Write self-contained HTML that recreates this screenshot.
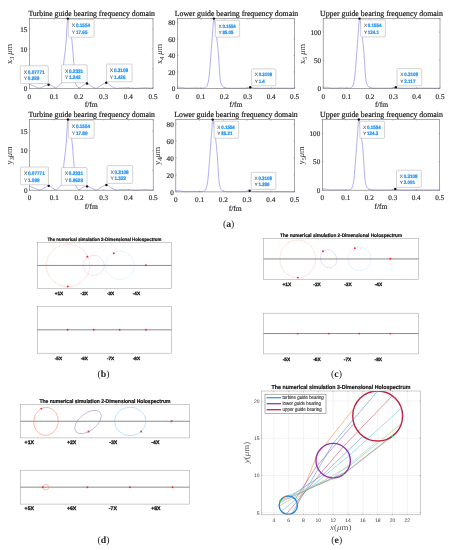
<!DOCTYPE html>
<html lang="en"><head><meta charset="utf-8"><title>Figure</title><style>html,body{margin:0;padding:0;background:#fff}svg{display:block}</style></head><body>
<svg width="451" height="550" viewBox="0 0 451 550" text-rendering="geometricPrecision">
<rect width="451" height="550" fill="#fff"/>
<defs><filter id="soft" x="0" y="0" width="100%" height="100%" filterUnits="userSpaceOnUse" color-interpolation-filters="sRGB"><feGaussianBlur stdDeviation="0.38"/></filter></defs>
<g filter="url(#soft)">
<rect width="451" height="550" fill="#fff"/>
<path d="M29.40 84.40 L30.14 84.66 L30.88 84.92 L31.62 85.18 L32.37 85.44 L33.11 85.71 L33.85 85.98 L34.76 86.38 L35.66 86.84 L36.57 87.32 L37.48 87.74 L38.38 88.04 L39.29 88.15 L40.11 88.05 L40.94 87.77 L41.76 87.39 L42.58 86.96 L43.41 86.53 L44.23 86.18 L44.96 85.88 L45.69 85.55 L46.42 85.23 L47.15 84.95 L47.88 84.75 L48.61 84.68 L49.32 84.76 L50.03 84.98 L50.75 85.30 L51.46 85.66 L52.17 86.04 L52.88 86.37 L53.42 86.65 L53.96 86.97 L54.49 87.30 L55.03 87.59 L55.56 87.80 L56.10 87.88 L56.55 87.76 L57.00 87.44 L57.46 86.99 L57.91 86.47 L58.36 85.94 L58.82 85.47 L59.31 85.06 L59.80 84.72 L60.29 84.36 L60.78 83.93 L61.27 83.35 L61.76 82.54 L62.08 81.13 L62.39 78.41 L62.71 74.85 L63.03 70.88 L63.34 66.98 L63.66 63.59 L64.06 60.00 L64.46 56.66 L64.86 53.38 L65.26 50.01 L65.66 46.37 L66.06 42.31 L66.35 38.36 L66.64 33.35 L66.94 28.08 L67.23 23.34 L67.52 19.92 L67.81 18.60 L68.44 19.37 L69.06 21.50 L69.68 24.67 L70.30 28.58 L70.93 32.94 L71.55 37.43 L71.93 40.69 L72.32 44.74 L72.71 49.32 L73.10 54.16 L73.48 59.01 L73.87 63.59 L74.17 67.36 L74.47 71.60 L74.77 75.84 L75.07 79.62 L75.38 82.48 L75.68 83.96 L76.28 85.13 L76.88 86.08 L77.48 86.82 L78.08 87.34 L78.68 87.65 L79.28 87.76 L79.95 87.62 L80.62 87.25 L81.29 86.74 L81.95 86.17 L82.62 85.63 L83.29 85.19 L83.91 84.83 L84.53 84.44 L85.16 84.06 L85.78 83.75 L86.40 83.52 L87.02 83.44 L87.72 83.59 L88.41 83.99 L89.11 84.54 L89.81 85.15 L90.50 85.73 L91.20 86.18 L92.02 86.62 L92.85 87.08 L93.67 87.52 L94.50 87.89 L95.32 88.14 L96.14 88.23 L97.05 88.06 L97.96 87.61 L98.86 86.98 L99.77 86.26 L100.68 85.57 L101.58 84.99 L102.36 84.53 L103.13 84.03 L103.91 83.54 L104.68 83.12 L105.46 82.83 L106.23 82.71 L107.02 82.90 L107.81 83.38 L108.60 84.04 L109.39 84.77 L110.18 85.45 L110.98 85.98 L111.88 86.47 L112.79 86.98 L113.70 87.46 L114.60 87.86 L115.51 88.13 L116.41 88.23 L117.24 88.22 L118.06 88.18 L118.89 88.13 L119.71 88.07 L120.53 88.01 L121.36 87.95 L122.10 87.91 L122.84 87.86 L123.58 87.81 L124.32 87.76 L125.07 87.73 L125.81 87.72 L126.63 87.73 L127.46 87.78 L128.28 87.84 L129.10 87.91 L129.93 87.98 L130.75 88.03 L131.58 88.08 L132.40 88.14 L133.22 88.19 L134.05 88.23 L134.87 88.26 L135.70 88.27 L136.52 88.26 L137.34 88.23 L138.17 88.18 L138.99 88.13 L139.82 88.08 L140.64 88.03 L141.46 87.98 L142.29 87.92 L143.11 87.86 L143.94 87.81 L144.76 87.77 L145.58 87.76 L146.28 87.77 L146.98 87.82 L147.69 87.88 L148.39 87.95 L149.09 88.02 L149.79 88.07 L150.32 88.10 L150.86 88.13 L151.39 88.16 L151.93 88.18 L152.46 88.21 L153.00 88.23" fill="none" stroke="#8a8af2" stroke-width="0.68" stroke-linejoin="round"/>
<rect x="29.40" y="18.60" width="123.60" height="69.75" fill="none" stroke="#6e6e6e" stroke-width="0.6"/>
<path d="M29.40 88.35 v-1.2 M29.40 18.6 v1.2" stroke="#6e6e6e" stroke-width="0.4"/>
<text x="29.40" y="98.55" font-family="Liberation Serif, serif" font-size="7.2" font-weight="normal" text-anchor="middle" fill="#2a2a2a" stroke="#2a2a2a" stroke-width="0.16">0</text>
<path d="M54.12 88.35 v-1.2 M54.12 18.6 v1.2" stroke="#6e6e6e" stroke-width="0.4"/>
<text x="54.12" y="98.55" font-family="Liberation Serif, serif" font-size="7.2" font-weight="normal" text-anchor="middle" fill="#2a2a2a" stroke="#2a2a2a" stroke-width="0.16">0.1</text>
<path d="M78.84 88.35 v-1.2 M78.84 18.6 v1.2" stroke="#6e6e6e" stroke-width="0.4"/>
<text x="78.84" y="98.55" font-family="Liberation Serif, serif" font-size="7.2" font-weight="normal" text-anchor="middle" fill="#2a2a2a" stroke="#2a2a2a" stroke-width="0.16">0.2</text>
<path d="M103.56 88.35 v-1.2 M103.56 18.6 v1.2" stroke="#6e6e6e" stroke-width="0.4"/>
<text x="103.56" y="98.55" font-family="Liberation Serif, serif" font-size="7.2" font-weight="normal" text-anchor="middle" fill="#2a2a2a" stroke="#2a2a2a" stroke-width="0.16">0.3</text>
<path d="M128.28 88.35 v-1.2 M128.28 18.6 v1.2" stroke="#6e6e6e" stroke-width="0.4"/>
<text x="128.28" y="98.55" font-family="Liberation Serif, serif" font-size="7.2" font-weight="normal" text-anchor="middle" fill="#2a2a2a" stroke="#2a2a2a" stroke-width="0.16">0.4</text>
<path d="M153.00 88.35 v-1.2 M153.00 18.6 v1.2" stroke="#6e6e6e" stroke-width="0.4"/>
<text x="153.00" y="98.55" font-family="Liberation Serif, serif" font-size="7.2" font-weight="normal" text-anchor="middle" fill="#2a2a2a" stroke="#2a2a2a" stroke-width="0.16">0.5</text>
<path d="M29.4 88.35 h1.2 M153.0 88.35 h-1.2" stroke="#6e6e6e" stroke-width="0.4"/>
<text x="27.40" y="91.05" font-family="Liberation Serif, serif" font-size="7.2" font-weight="normal" text-anchor="end" fill="#2a2a2a" stroke="#2a2a2a" stroke-width="0.16">0</text>
<path d="M29.4 68.59 h1.2 M153.0 68.59 h-1.2" stroke="#6e6e6e" stroke-width="0.4"/>
<text x="27.40" y="71.29" font-family="Liberation Serif, serif" font-size="7.2" font-weight="normal" text-anchor="end" fill="#2a2a2a" stroke="#2a2a2a" stroke-width="0.16">5</text>
<path d="M29.4 48.83 h1.2 M153.0 48.83 h-1.2" stroke="#6e6e6e" stroke-width="0.4"/>
<text x="27.40" y="51.53" font-family="Liberation Serif, serif" font-size="7.2" font-weight="normal" text-anchor="end" fill="#2a2a2a" stroke="#2a2a2a" stroke-width="0.16">10</text>
<path d="M29.4 29.07 h1.2 M153.0 29.07 h-1.2" stroke="#6e6e6e" stroke-width="0.4"/>
<text x="27.40" y="31.77" font-family="Liberation Serif, serif" font-size="7.2" font-weight="normal" text-anchor="end" fill="#2a2a2a" stroke="#2a2a2a" stroke-width="0.16">15</text>
<text x="91.20" y="106.95" font-family="Liberation Serif, serif" font-size="7.6" font-weight="normal" text-anchor="middle" fill="#2a2a2a" stroke="#2a2a2a" stroke-width="0.16">f/fm</text>
<text x="91.70" y="16.40" font-family="Liberation Serif, serif" font-size="7.8" font-weight="normal" text-anchor="middle" fill="#111" textLength="126.60" lengthAdjust="spacingAndGlyphs" stroke="#111" stroke-width="0.16">Turbine guide bearing frequency domain</text>
<text transform="translate(11.50 54.00) rotate(-90)" font-family="Liberation Serif, serif" font-size="8.4" text-anchor="middle" fill="#2a2a2a">x<tspan font-size="6.2" dy="2">3</tspan><tspan dy="-2"> <tspan font-style="italic">μ</tspan>m</tspan></text>
<rect x="68.40" y="19.50" width="25.70" height="17.80" rx="0.9" fill="#fdfdfd" fill-opacity="0.94" stroke="#b4b4b4" stroke-width="0.55"/>
<circle cx="67.81" cy="18.60" r="1.2" fill="#111"/>
<text x="71.80" y="27.47" font-family="Liberation Sans, sans-serif" font-size="5.0" font-weight="normal" text-anchor="start" fill="#5e5e5e" stroke="#5e5e5e" stroke-width="0.12">X</text>
<text x="75.90" y="27.47" font-family="Liberation Sans, sans-serif" font-size="5.1" font-weight="bold" text-anchor="start" fill="#1e92f4" textLength="14.19" lengthAdjust="spacingAndGlyphs" stroke="#1e92f4" stroke-width="0.22">0.1554</text>
<text x="71.80" y="34.13" font-family="Liberation Sans, sans-serif" font-size="5.0" font-weight="normal" text-anchor="start" fill="#5e5e5e" stroke="#5e5e5e" stroke-width="0.12">Y</text>
<text x="75.90" y="34.13" font-family="Liberation Sans, sans-serif" font-size="5.1" font-weight="bold" text-anchor="start" fill="#1e92f4" textLength="11.61" lengthAdjust="spacingAndGlyphs" stroke="#1e92f4" stroke-width="0.22">17.65</text>
<rect x="20.30" y="65.80" width="28.00" height="17.80" rx="0.9" fill="#fdfdfd" fill-opacity="0.94" stroke="#b4b4b4" stroke-width="0.55"/>
<circle cx="48.61" cy="84.68" r="1.2" fill="#111"/>
<text x="23.70" y="73.77" font-family="Liberation Sans, sans-serif" font-size="5.0" font-weight="normal" text-anchor="start" fill="#5e5e5e" stroke="#5e5e5e" stroke-width="0.12">X</text>
<text x="27.80" y="73.77" font-family="Liberation Sans, sans-serif" font-size="5.1" font-weight="bold" text-anchor="start" fill="#1e92f4" textLength="16.77" lengthAdjust="spacingAndGlyphs" stroke="#1e92f4" stroke-width="0.22">0.07771</text>
<text x="23.70" y="80.43" font-family="Liberation Sans, sans-serif" font-size="5.0" font-weight="normal" text-anchor="start" fill="#5e5e5e" stroke="#5e5e5e" stroke-width="0.12">Y</text>
<text x="27.80" y="80.43" font-family="Liberation Sans, sans-serif" font-size="5.1" font-weight="bold" text-anchor="start" fill="#1e92f4" textLength="11.61" lengthAdjust="spacingAndGlyphs" stroke="#1e92f4" stroke-width="0.22">0.929</text>
<rect x="61.50" y="64.80" width="25.70" height="17.80" rx="0.9" fill="#fdfdfd" fill-opacity="0.94" stroke="#b4b4b4" stroke-width="0.55"/>
<circle cx="87.02" cy="83.44" r="1.2" fill="#111"/>
<text x="64.90" y="72.77" font-family="Liberation Sans, sans-serif" font-size="5.0" font-weight="normal" text-anchor="start" fill="#5e5e5e" stroke="#5e5e5e" stroke-width="0.12">X</text>
<text x="69.00" y="72.77" font-family="Liberation Sans, sans-serif" font-size="5.1" font-weight="bold" text-anchor="start" fill="#1e92f4" textLength="14.19" lengthAdjust="spacingAndGlyphs" stroke="#1e92f4" stroke-width="0.22">0.2331</text>
<text x="64.90" y="79.43" font-family="Liberation Sans, sans-serif" font-size="5.0" font-weight="normal" text-anchor="start" fill="#5e5e5e" stroke="#5e5e5e" stroke-width="0.12">Y</text>
<text x="69.00" y="79.43" font-family="Liberation Sans, sans-serif" font-size="5.1" font-weight="bold" text-anchor="start" fill="#1e92f4" textLength="11.61" lengthAdjust="spacingAndGlyphs" stroke="#1e92f4" stroke-width="0.22">1.242</text>
<rect x="106.40" y="64.00" width="25.70" height="17.80" rx="0.9" fill="#fdfdfd" fill-opacity="0.94" stroke="#b4b4b4" stroke-width="0.55"/>
<circle cx="106.23" cy="82.71" r="1.2" fill="#111"/>
<text x="109.80" y="71.97" font-family="Liberation Sans, sans-serif" font-size="5.0" font-weight="normal" text-anchor="start" fill="#5e5e5e" stroke="#5e5e5e" stroke-width="0.12">X</text>
<text x="113.90" y="71.97" font-family="Liberation Sans, sans-serif" font-size="5.1" font-weight="bold" text-anchor="start" fill="#1e92f4" textLength="14.19" lengthAdjust="spacingAndGlyphs" stroke="#1e92f4" stroke-width="0.22">0.3108</text>
<text x="109.80" y="78.63" font-family="Liberation Sans, sans-serif" font-size="5.0" font-weight="normal" text-anchor="start" fill="#5e5e5e" stroke="#5e5e5e" stroke-width="0.12">Y</text>
<text x="113.90" y="78.63" font-family="Liberation Sans, sans-serif" font-size="5.1" font-weight="bold" text-anchor="start" fill="#1e92f4" textLength="11.61" lengthAdjust="spacingAndGlyphs" stroke="#1e92f4" stroke-width="0.22">1.426</text>
<path d="M177.40 86.95 L178.18 87.05 L178.96 87.14 L179.74 87.23 L180.53 87.32 L181.31 87.42 L182.09 87.51 L182.87 87.63 L183.65 87.76 L184.43 87.90 L185.21 88.02 L185.99 88.11 L186.78 88.14 L187.56 88.14 L188.34 88.13 L189.12 88.12 L189.90 88.11 L190.68 88.09 L191.46 88.07 L192.16 88.04 L192.85 87.98 L193.54 87.92 L194.23 87.86 L194.92 87.81 L195.61 87.79 L196.29 87.81 L196.96 87.86 L197.64 87.93 L198.32 88.00 L198.99 88.05 L199.67 88.07 L200.25 88.07 L200.84 88.07 L201.43 88.07 L202.01 88.07 L202.60 88.07 L203.18 88.07 L203.42 88.06 L203.65 88.03 L203.89 87.98 L204.12 87.92 L204.36 87.86 L204.59 87.79 L204.90 87.70 L205.22 87.59 L205.53 87.47 L205.84 87.31 L206.15 87.12 L206.47 86.89 L206.78 86.50 L207.09 85.88 L207.40 85.05 L207.72 84.03 L208.03 82.87 L208.34 81.58 L208.84 78.59 L209.33 74.12 L209.83 68.59 L210.33 62.40 L210.82 55.97 L211.32 49.71 L211.54 46.80 L211.77 43.66 L212.00 40.42 L212.22 37.18 L212.45 34.05 L212.68 31.15 L212.87 28.62 L213.06 25.84 L213.25 23.14 L213.44 20.83 L213.63 19.21 L213.83 18.60 L214.20 19.25 L214.58 21.00 L214.95 23.52 L215.33 26.50 L215.70 29.61 L216.08 32.55 L216.40 35.00 L216.72 37.62 L217.05 40.39 L217.37 43.34 L217.70 46.44 L218.02 49.71 L218.44 54.85 L218.86 61.10 L219.28 67.68 L219.69 73.81 L220.11 78.71 L220.53 81.58 L220.88 82.84 L221.23 83.92 L221.58 84.82 L221.94 85.55 L222.29 86.09 L222.64 86.47 L222.99 86.73 L223.34 86.95 L223.69 87.13 L224.05 87.28 L224.40 87.41 L224.75 87.51 L225.30 87.67 L225.84 87.81 L226.39 87.94 L226.94 88.04 L227.48 88.11 L228.03 88.14 L229.36 88.16 L230.69 88.18 L232.02 88.19 L233.34 88.20 L234.67 88.21 L236.00 88.21 L237.56 88.21 L239.13 88.20 L240.69 88.18 L242.25 88.15 L243.81 88.11 L245.38 88.07 L246.19 87.99 L247.00 87.82 L247.81 87.62 L248.63 87.42 L249.44 87.26 L250.25 87.20 L251.00 87.26 L251.75 87.42 L252.50 87.62 L253.25 87.83 L254.00 87.99 L254.75 88.07 L256.31 88.11 L257.88 88.15 L259.44 88.18 L261.00 88.20 L262.57 88.21 L264.13 88.21 L266.08 88.21 L268.03 88.19 L269.99 88.18 L271.94 88.16 L273.89 88.15 L275.85 88.14 L278.97 88.14 L282.10 88.15 L285.22 88.17 L288.35 88.18 L291.47 88.20 L294.60 88.21" fill="none" stroke="#8a8af2" stroke-width="0.68" stroke-linejoin="round"/>
<rect x="177.40" y="18.60" width="117.20" height="69.75" fill="none" stroke="#6e6e6e" stroke-width="0.6"/>
<path d="M177.40 88.35 v-1.2 M177.40 18.6 v1.2" stroke="#6e6e6e" stroke-width="0.4"/>
<text x="177.40" y="98.55" font-family="Liberation Serif, serif" font-size="7.2" font-weight="normal" text-anchor="middle" fill="#2a2a2a" stroke="#2a2a2a" stroke-width="0.16">0</text>
<path d="M200.84 88.35 v-1.2 M200.84 18.6 v1.2" stroke="#6e6e6e" stroke-width="0.4"/>
<text x="200.84" y="98.55" font-family="Liberation Serif, serif" font-size="7.2" font-weight="normal" text-anchor="middle" fill="#2a2a2a" stroke="#2a2a2a" stroke-width="0.16">0.1</text>
<path d="M224.28 88.35 v-1.2 M224.28 18.6 v1.2" stroke="#6e6e6e" stroke-width="0.4"/>
<text x="224.28" y="98.55" font-family="Liberation Serif, serif" font-size="7.2" font-weight="normal" text-anchor="middle" fill="#2a2a2a" stroke="#2a2a2a" stroke-width="0.16">0.2</text>
<path d="M247.72 88.35 v-1.2 M247.72 18.6 v1.2" stroke="#6e6e6e" stroke-width="0.4"/>
<text x="247.72" y="98.55" font-family="Liberation Serif, serif" font-size="7.2" font-weight="normal" text-anchor="middle" fill="#2a2a2a" stroke="#2a2a2a" stroke-width="0.16">0.3</text>
<path d="M271.16 88.35 v-1.2 M271.16 18.6 v1.2" stroke="#6e6e6e" stroke-width="0.4"/>
<text x="271.16" y="98.55" font-family="Liberation Serif, serif" font-size="7.2" font-weight="normal" text-anchor="middle" fill="#2a2a2a" stroke="#2a2a2a" stroke-width="0.16">0.4</text>
<path d="M294.60 88.35 v-1.2 M294.60 18.6 v1.2" stroke="#6e6e6e" stroke-width="0.4"/>
<text x="294.60" y="98.55" font-family="Liberation Serif, serif" font-size="7.2" font-weight="normal" text-anchor="middle" fill="#2a2a2a" stroke="#2a2a2a" stroke-width="0.16">0.5</text>
<path d="M177.4 88.35 h1.2 M294.6 88.35 h-1.2" stroke="#6e6e6e" stroke-width="0.4"/>
<text x="175.40" y="91.05" font-family="Liberation Serif, serif" font-size="7.2" font-weight="normal" text-anchor="end" fill="#2a2a2a" stroke="#2a2a2a" stroke-width="0.16">0</text>
<path d="M177.4 71.95 h1.2 M294.6 71.95 h-1.2" stroke="#6e6e6e" stroke-width="0.4"/>
<text x="175.40" y="74.65" font-family="Liberation Serif, serif" font-size="7.2" font-weight="normal" text-anchor="end" fill="#2a2a2a" stroke="#2a2a2a" stroke-width="0.16">20</text>
<path d="M177.4 55.55 h1.2 M294.6 55.55 h-1.2" stroke="#6e6e6e" stroke-width="0.4"/>
<text x="175.40" y="58.25" font-family="Liberation Serif, serif" font-size="7.2" font-weight="normal" text-anchor="end" fill="#2a2a2a" stroke="#2a2a2a" stroke-width="0.16">40</text>
<path d="M177.4 39.14 h1.2 M294.6 39.14 h-1.2" stroke="#6e6e6e" stroke-width="0.4"/>
<text x="175.40" y="41.84" font-family="Liberation Serif, serif" font-size="7.2" font-weight="normal" text-anchor="end" fill="#2a2a2a" stroke="#2a2a2a" stroke-width="0.16">60</text>
<path d="M177.4 22.74 h1.2 M294.6 22.74 h-1.2" stroke="#6e6e6e" stroke-width="0.4"/>
<text x="175.40" y="25.44" font-family="Liberation Serif, serif" font-size="7.2" font-weight="normal" text-anchor="end" fill="#2a2a2a" stroke="#2a2a2a" stroke-width="0.16">80</text>
<text x="236.00" y="106.95" font-family="Liberation Serif, serif" font-size="7.6" font-weight="normal" text-anchor="middle" fill="#2a2a2a" stroke="#2a2a2a" stroke-width="0.16">f/fm</text>
<text x="236.50" y="16.40" font-family="Liberation Serif, serif" font-size="7.8" font-weight="normal" text-anchor="middle" fill="#111" textLength="123.40" lengthAdjust="spacingAndGlyphs" stroke="#111" stroke-width="0.16">Lower guide bearing frequency domain</text>
<text transform="translate(161.50 54.00) rotate(-90)" font-family="Liberation Serif, serif" font-size="8.4" text-anchor="middle" fill="#2a2a2a">x<tspan font-size="6.2" dy="2">4</tspan><tspan dy="-2"> <tspan font-style="italic">μ</tspan>m</tspan></text>
<rect x="215.30" y="20.30" width="24.29" height="16.82" rx="0.9" fill="#fdfdfd" fill-opacity="0.94" stroke="#b4b4b4" stroke-width="0.55"/>
<circle cx="213.83" cy="18.60" r="1.2" fill="#111"/>
<text x="218.51" y="27.83" font-family="Liberation Sans, sans-serif" font-size="4.725" font-weight="normal" text-anchor="start" fill="#5e5e5e" stroke="#5e5e5e" stroke-width="0.12">X</text>
<text x="222.39" y="27.83" font-family="Liberation Sans, sans-serif" font-size="4.8195" font-weight="bold" text-anchor="start" fill="#1e92f4" textLength="13.41" lengthAdjust="spacingAndGlyphs" stroke="#1e92f4" stroke-width="0.22">0.1554</text>
<text x="218.51" y="34.13" font-family="Liberation Sans, sans-serif" font-size="4.725" font-weight="normal" text-anchor="start" fill="#5e5e5e" stroke="#5e5e5e" stroke-width="0.12">Y</text>
<text x="222.39" y="34.13" font-family="Liberation Sans, sans-serif" font-size="4.8195" font-weight="bold" text-anchor="start" fill="#1e92f4" textLength="10.97" lengthAdjust="spacingAndGlyphs" stroke="#1e92f4" stroke-width="0.22">85.05</text>
<rect x="251.60" y="68.90" width="24.29" height="16.82" rx="0.9" fill="#fdfdfd" fill-opacity="0.94" stroke="#b4b4b4" stroke-width="0.55"/>
<circle cx="250.25" cy="87.20" r="1.2" fill="#111"/>
<text x="254.81" y="76.43" font-family="Liberation Sans, sans-serif" font-size="4.725" font-weight="normal" text-anchor="start" fill="#5e5e5e" stroke="#5e5e5e" stroke-width="0.12">X</text>
<text x="258.69" y="76.43" font-family="Liberation Sans, sans-serif" font-size="4.8195" font-weight="bold" text-anchor="start" fill="#1e92f4" textLength="13.41" lengthAdjust="spacingAndGlyphs" stroke="#1e92f4" stroke-width="0.22">0.3108</text>
<text x="254.81" y="82.73" font-family="Liberation Sans, sans-serif" font-size="4.725" font-weight="normal" text-anchor="start" fill="#5e5e5e" stroke="#5e5e5e" stroke-width="0.12">Y</text>
<text x="258.69" y="82.73" font-family="Liberation Sans, sans-serif" font-size="4.8195" font-weight="bold" text-anchor="start" fill="#1e92f4" textLength="6.10" lengthAdjust="spacingAndGlyphs" stroke="#1e92f4" stroke-width="0.22">1.4</text>
<path d="M323.20 86.95 L323.98 87.05 L324.76 87.14 L325.54 87.23 L326.31 87.32 L327.09 87.42 L327.87 87.51 L328.65 87.63 L329.43 87.76 L330.21 87.90 L330.99 88.02 L331.77 88.11 L332.54 88.14 L333.32 88.14 L334.10 88.13 L334.88 88.12 L335.66 88.11 L336.44 88.09 L337.22 88.07 L337.91 88.04 L338.59 87.98 L339.28 87.92 L339.97 87.86 L340.66 87.81 L341.35 87.79 L342.02 87.81 L342.70 87.86 L343.37 87.93 L344.04 88.00 L344.72 88.05 L345.39 88.07 L345.98 88.07 L346.56 88.07 L347.14 88.07 L347.73 88.07 L348.31 88.07 L348.90 88.07 L349.13 88.06 L349.36 88.03 L349.60 87.98 L349.83 87.92 L350.06 87.86 L350.30 87.79 L350.61 87.70 L350.92 87.59 L351.23 87.47 L351.54 87.31 L351.85 87.12 L352.17 86.89 L352.48 86.50 L352.79 85.88 L353.10 85.05 L353.41 84.03 L353.72 82.87 L354.04 81.58 L354.53 78.59 L355.02 74.12 L355.52 68.59 L356.01 62.40 L356.51 55.97 L357.00 49.71 L357.23 46.80 L357.45 43.66 L357.68 40.42 L357.91 37.18 L358.13 34.05 L358.36 31.16 L358.55 28.62 L358.74 25.84 L358.93 23.14 L359.12 20.83 L359.31 19.21 L359.50 18.60 L359.88 19.25 L360.25 21.00 L360.62 23.52 L361.00 26.50 L361.37 29.61 L361.74 32.55 L362.07 35.00 L362.39 37.62 L362.71 40.39 L363.04 43.34 L363.36 46.44 L363.68 49.71 L364.10 54.85 L364.52 61.10 L364.93 67.68 L365.35 73.81 L365.77 78.71 L366.18 81.58 L366.53 82.84 L366.88 83.92 L367.23 84.82 L367.58 85.55 L367.93 86.09 L368.28 86.47 L368.64 86.73 L368.99 86.95 L369.34 87.13 L369.69 87.28 L370.04 87.41 L370.39 87.51 L370.93 87.67 L371.48 87.81 L372.02 87.94 L372.57 88.04 L373.11 88.11 L373.66 88.14 L374.98 88.16 L376.31 88.18 L377.63 88.19 L378.95 88.20 L380.28 88.21 L381.60 88.21 L383.16 88.21 L384.71 88.20 L386.27 88.18 L387.83 88.15 L389.39 88.11 L390.94 88.07 L391.75 87.99 L392.56 87.81 L393.37 87.60 L394.18 87.39 L394.99 87.22 L395.80 87.16 L396.55 87.22 L397.30 87.39 L398.05 87.60 L398.79 87.81 L399.54 87.99 L400.29 88.07 L401.85 88.11 L403.40 88.15 L404.96 88.18 L406.52 88.20 L408.07 88.21 L409.63 88.21 L411.58 88.21 L413.53 88.19 L415.47 88.18 L417.42 88.16 L419.37 88.15 L421.31 88.14 L424.43 88.14 L427.54 88.15 L430.66 88.17 L433.77 88.18 L436.89 88.20 L440.00 88.21" fill="none" stroke="#8a8af2" stroke-width="0.68" stroke-linejoin="round"/>
<rect x="323.20" y="18.60" width="116.80" height="69.75" fill="none" stroke="#6e6e6e" stroke-width="0.6"/>
<path d="M323.20 88.35 v-1.2 M323.20 18.6 v1.2" stroke="#6e6e6e" stroke-width="0.4"/>
<text x="323.20" y="98.55" font-family="Liberation Serif, serif" font-size="7.2" font-weight="normal" text-anchor="middle" fill="#2a2a2a" stroke="#2a2a2a" stroke-width="0.16">0</text>
<path d="M346.56 88.35 v-1.2 M346.56 18.6 v1.2" stroke="#6e6e6e" stroke-width="0.4"/>
<text x="346.56" y="98.55" font-family="Liberation Serif, serif" font-size="7.2" font-weight="normal" text-anchor="middle" fill="#2a2a2a" stroke="#2a2a2a" stroke-width="0.16">0.1</text>
<path d="M369.92 88.35 v-1.2 M369.92 18.6 v1.2" stroke="#6e6e6e" stroke-width="0.4"/>
<text x="369.92" y="98.55" font-family="Liberation Serif, serif" font-size="7.2" font-weight="normal" text-anchor="middle" fill="#2a2a2a" stroke="#2a2a2a" stroke-width="0.16">0.2</text>
<path d="M393.28 88.35 v-1.2 M393.28 18.6 v1.2" stroke="#6e6e6e" stroke-width="0.4"/>
<text x="393.28" y="98.55" font-family="Liberation Serif, serif" font-size="7.2" font-weight="normal" text-anchor="middle" fill="#2a2a2a" stroke="#2a2a2a" stroke-width="0.16">0.3</text>
<path d="M416.64 88.35 v-1.2 M416.64 18.6 v1.2" stroke="#6e6e6e" stroke-width="0.4"/>
<text x="416.64" y="98.55" font-family="Liberation Serif, serif" font-size="7.2" font-weight="normal" text-anchor="middle" fill="#2a2a2a" stroke="#2a2a2a" stroke-width="0.16">0.4</text>
<path d="M440.00 88.35 v-1.2 M440.00 18.6 v1.2" stroke="#6e6e6e" stroke-width="0.4"/>
<text x="440.00" y="98.55" font-family="Liberation Serif, serif" font-size="7.2" font-weight="normal" text-anchor="middle" fill="#2a2a2a" stroke="#2a2a2a" stroke-width="0.16">0.5</text>
<path d="M323.2 88.35 h1.2 M440.0 88.35 h-1.2" stroke="#6e6e6e" stroke-width="0.4"/>
<text x="321.20" y="91.05" font-family="Liberation Serif, serif" font-size="7.2" font-weight="normal" text-anchor="end" fill="#2a2a2a" stroke="#2a2a2a" stroke-width="0.16">0</text>
<path d="M323.2 60.25 h1.2 M440.0 60.25 h-1.2" stroke="#6e6e6e" stroke-width="0.4"/>
<text x="321.20" y="62.95" font-family="Liberation Serif, serif" font-size="7.2" font-weight="normal" text-anchor="end" fill="#2a2a2a" stroke="#2a2a2a" stroke-width="0.16">50</text>
<path d="M323.2 32.15 h1.2 M440.0 32.15 h-1.2" stroke="#6e6e6e" stroke-width="0.4"/>
<text x="321.20" y="34.85" font-family="Liberation Serif, serif" font-size="7.2" font-weight="normal" text-anchor="end" fill="#2a2a2a" stroke="#2a2a2a" stroke-width="0.16">100</text>
<text x="381.60" y="106.95" font-family="Liberation Serif, serif" font-size="7.6" font-weight="normal" text-anchor="middle" fill="#2a2a2a" stroke="#2a2a2a" stroke-width="0.16">f/fm</text>
<text x="381.40" y="16.40" font-family="Liberation Serif, serif" font-size="7.8" font-weight="normal" text-anchor="middle" fill="#111" textLength="122.80" lengthAdjust="spacingAndGlyphs" stroke="#111" stroke-width="0.16">Upper guide bearing frequency domain</text>
<text transform="translate(304.60 54.00) rotate(-90)" font-family="Liberation Serif, serif" font-size="8.4" text-anchor="middle" fill="#2a2a2a">x<tspan font-size="6.2" dy="2">5</tspan><tspan dy="-2"> <tspan font-style="italic">μ</tspan>m</tspan></text>
<rect x="360.60" y="19.80" width="24.80" height="17.18" rx="0.9" fill="#fdfdfd" fill-opacity="0.94" stroke="#b4b4b4" stroke-width="0.55"/>
<circle cx="359.50" cy="18.60" r="1.2" fill="#111"/>
<text x="363.88" y="27.49" font-family="Liberation Sans, sans-serif" font-size="4.825" font-weight="normal" text-anchor="start" fill="#5e5e5e" stroke="#5e5e5e" stroke-width="0.12">X</text>
<text x="367.84" y="27.49" font-family="Liberation Sans, sans-serif" font-size="4.921499999999999" font-weight="bold" text-anchor="start" fill="#1e92f4" textLength="13.69" lengthAdjust="spacingAndGlyphs" stroke="#1e92f4" stroke-width="0.22">0.1554</text>
<text x="363.88" y="33.92" font-family="Liberation Sans, sans-serif" font-size="4.825" font-weight="normal" text-anchor="start" fill="#5e5e5e" stroke="#5e5e5e" stroke-width="0.12">Y</text>
<text x="367.84" y="33.92" font-family="Liberation Sans, sans-serif" font-size="4.921499999999999" font-weight="bold" text-anchor="start" fill="#1e92f4" textLength="11.20" lengthAdjust="spacingAndGlyphs" stroke="#1e92f4" stroke-width="0.22">124.1</text>
<rect x="397.00" y="68.60" width="24.80" height="17.18" rx="0.9" fill="#fdfdfd" fill-opacity="0.94" stroke="#b4b4b4" stroke-width="0.55"/>
<circle cx="395.80" cy="87.16" r="1.2" fill="#111"/>
<text x="400.28" y="76.29" font-family="Liberation Sans, sans-serif" font-size="4.825" font-weight="normal" text-anchor="start" fill="#5e5e5e" stroke="#5e5e5e" stroke-width="0.12">X</text>
<text x="404.24" y="76.29" font-family="Liberation Sans, sans-serif" font-size="4.921499999999999" font-weight="bold" text-anchor="start" fill="#1e92f4" textLength="13.69" lengthAdjust="spacingAndGlyphs" stroke="#1e92f4" stroke-width="0.22">0.3108</text>
<text x="400.28" y="82.72" font-family="Liberation Sans, sans-serif" font-size="4.825" font-weight="normal" text-anchor="start" fill="#5e5e5e" stroke="#5e5e5e" stroke-width="0.12">Y</text>
<text x="404.24" y="82.72" font-family="Liberation Sans, sans-serif" font-size="4.921499999999999" font-weight="bold" text-anchor="start" fill="#1e92f4" textLength="11.20" lengthAdjust="spacingAndGlyphs" stroke="#1e92f4" stroke-width="0.22">2.117</text>
<path d="M29.50 186.25 L30.24 186.51 L30.98 186.77 L31.73 187.03 L32.47 187.29 L33.21 187.55 L33.95 187.83 L34.86 188.23 L35.77 188.69 L36.67 189.17 L37.58 189.59 L38.49 189.89 L39.40 190.00 L40.22 189.91 L41.05 189.65 L41.87 189.29 L42.69 188.86 L43.52 188.43 L44.34 188.03 L45.07 187.64 L45.80 187.18 L46.53 186.70 L47.26 186.28 L47.99 185.97 L48.72 185.86 L49.44 185.98 L50.15 186.31 L50.86 186.77 L51.58 187.29 L52.29 187.80 L53.00 188.22 L53.54 188.52 L54.08 188.85 L54.61 189.18 L55.15 189.46 L55.68 189.65 L56.22 189.73 L56.67 189.61 L57.13 189.29 L57.58 188.84 L58.03 188.32 L58.49 187.79 L58.94 187.32 L59.43 186.91 L59.92 186.57 L60.41 186.22 L60.90 185.78 L61.39 185.20 L61.88 184.39 L62.20 182.96 L62.52 180.19 L62.84 176.56 L63.15 172.52 L63.47 168.55 L63.79 165.10 L64.19 161.46 L64.59 158.07 L64.99 154.75 L65.39 151.33 L65.79 147.65 L66.19 143.54 L66.48 139.53 L66.77 134.45 L67.07 129.11 L67.36 124.31 L67.65 120.83 L67.95 119.50 L68.57 120.29 L69.19 122.44 L69.81 125.65 L70.44 129.62 L71.06 134.03 L71.68 138.59 L72.07 141.89 L72.46 146.00 L72.84 150.63 L73.23 155.54 L73.62 160.45 L74.01 165.10 L74.31 168.94 L74.61 173.25 L74.91 177.56 L75.21 181.41 L75.51 184.31 L75.81 185.81 L76.42 186.98 L77.02 187.93 L77.62 188.67 L78.22 189.19 L78.82 189.50 L79.43 189.61 L80.09 189.44 L80.76 189.02 L81.43 188.46 L82.10 187.86 L82.77 187.35 L83.43 187.04 L84.06 186.87 L84.68 186.72 L85.30 186.59 L85.92 186.49 L86.55 186.42 L87.17 186.39 L87.87 186.48 L88.56 186.69 L89.26 187.00 L89.96 187.35 L90.65 187.71 L91.35 188.03 L92.17 188.41 L93.00 188.85 L93.82 189.30 L94.65 189.70 L95.47 189.98 L96.30 190.08 L97.21 189.90 L98.11 189.43 L99.02 188.79 L99.93 188.07 L100.83 187.38 L101.74 186.84 L102.52 186.45 L103.29 186.03 L104.07 185.63 L104.84 185.29 L105.62 185.06 L106.39 184.98 L107.18 185.13 L107.98 185.54 L108.77 186.11 L109.56 186.74 L110.35 187.35 L111.14 187.83 L112.05 188.31 L112.96 188.81 L113.86 189.29 L114.77 189.70 L115.68 189.98 L116.58 190.08 L117.41 190.07 L118.23 190.03 L119.06 189.98 L119.88 189.92 L120.71 189.86 L121.53 189.80 L122.27 189.76 L123.02 189.71 L123.76 189.66 L124.50 189.61 L125.24 189.58 L125.99 189.57 L126.81 189.58 L127.64 189.63 L128.46 189.69 L129.28 189.76 L130.11 189.83 L130.93 189.88 L131.76 189.93 L132.58 189.99 L133.41 190.04 L134.23 190.08 L135.06 190.11 L135.88 190.12 L136.71 190.11 L137.53 190.08 L138.36 190.03 L139.18 189.98 L140.01 189.93 L140.83 189.88 L141.65 189.83 L142.48 189.77 L143.30 189.71 L144.13 189.66 L144.95 189.62 L145.78 189.61 L146.48 189.62 L147.18 189.67 L147.88 189.73 L148.58 189.80 L149.28 189.87 L149.98 189.92 L150.52 189.95 L151.06 189.98 L151.59 190.01 L152.13 190.03 L152.66 190.06 L153.20 190.08" fill="none" stroke="#8a8af2" stroke-width="0.68" stroke-linejoin="round"/>
<rect x="29.50" y="119.50" width="123.70" height="70.70" fill="none" stroke="#6e6e6e" stroke-width="0.6"/>
<path d="M29.50 190.2 v-1.2 M29.50 119.5 v1.2" stroke="#6e6e6e" stroke-width="0.4"/>
<text x="29.50" y="200.40" font-family="Liberation Serif, serif" font-size="7.2" font-weight="normal" text-anchor="middle" fill="#2a2a2a" stroke="#2a2a2a" stroke-width="0.16">0</text>
<path d="M54.24 190.2 v-1.2 M54.24 119.5 v1.2" stroke="#6e6e6e" stroke-width="0.4"/>
<text x="54.24" y="200.40" font-family="Liberation Serif, serif" font-size="7.2" font-weight="normal" text-anchor="middle" fill="#2a2a2a" stroke="#2a2a2a" stroke-width="0.16">0.1</text>
<path d="M78.98 190.2 v-1.2 M78.98 119.5 v1.2" stroke="#6e6e6e" stroke-width="0.4"/>
<text x="78.98" y="200.40" font-family="Liberation Serif, serif" font-size="7.2" font-weight="normal" text-anchor="middle" fill="#2a2a2a" stroke="#2a2a2a" stroke-width="0.16">0.2</text>
<path d="M103.72 190.2 v-1.2 M103.72 119.5 v1.2" stroke="#6e6e6e" stroke-width="0.4"/>
<text x="103.72" y="200.40" font-family="Liberation Serif, serif" font-size="7.2" font-weight="normal" text-anchor="middle" fill="#2a2a2a" stroke="#2a2a2a" stroke-width="0.16">0.3</text>
<path d="M128.46 190.2 v-1.2 M128.46 119.5 v1.2" stroke="#6e6e6e" stroke-width="0.4"/>
<text x="128.46" y="200.40" font-family="Liberation Serif, serif" font-size="7.2" font-weight="normal" text-anchor="middle" fill="#2a2a2a" stroke="#2a2a2a" stroke-width="0.16">0.4</text>
<path d="M153.20 190.2 v-1.2 M153.20 119.5 v1.2" stroke="#6e6e6e" stroke-width="0.4"/>
<text x="153.20" y="200.40" font-family="Liberation Serif, serif" font-size="7.2" font-weight="normal" text-anchor="middle" fill="#2a2a2a" stroke="#2a2a2a" stroke-width="0.16">0.5</text>
<path d="M29.5 190.20 h1.2 M153.2 190.20 h-1.2" stroke="#6e6e6e" stroke-width="0.4"/>
<text x="27.50" y="192.90" font-family="Liberation Serif, serif" font-size="7.2" font-weight="normal" text-anchor="end" fill="#2a2a2a" stroke="#2a2a2a" stroke-width="0.16">0</text>
<path d="M29.5 170.44 h1.2 M153.2 170.44 h-1.2" stroke="#6e6e6e" stroke-width="0.4"/>
<text x="27.50" y="173.14" font-family="Liberation Serif, serif" font-size="7.2" font-weight="normal" text-anchor="end" fill="#2a2a2a" stroke="#2a2a2a" stroke-width="0.16">5</text>
<path d="M29.5 150.68 h1.2 M153.2 150.68 h-1.2" stroke="#6e6e6e" stroke-width="0.4"/>
<text x="27.50" y="153.38" font-family="Liberation Serif, serif" font-size="7.2" font-weight="normal" text-anchor="end" fill="#2a2a2a" stroke="#2a2a2a" stroke-width="0.16">10</text>
<path d="M29.5 130.92 h1.2 M153.2 130.92 h-1.2" stroke="#6e6e6e" stroke-width="0.4"/>
<text x="27.50" y="133.62" font-family="Liberation Serif, serif" font-size="7.2" font-weight="normal" text-anchor="end" fill="#2a2a2a" stroke="#2a2a2a" stroke-width="0.16">15</text>
<text x="91.35" y="208.80" font-family="Liberation Serif, serif" font-size="7.6" font-weight="normal" text-anchor="middle" fill="#2a2a2a" stroke="#2a2a2a" stroke-width="0.16">f/fm</text>
<text x="91.70" y="117.30" font-family="Liberation Serif, serif" font-size="7.8" font-weight="normal" text-anchor="middle" fill="#111" textLength="126.60" lengthAdjust="spacingAndGlyphs" stroke="#111" stroke-width="0.16">Turbine guide bearing frequency domain</text>
<text transform="translate(11.50 155.50) rotate(-90)" font-family="Liberation Serif, serif" font-size="8.4" text-anchor="middle" fill="#2a2a2a">y<tspan font-size="6.2" dy="2">3</tspan><tspan dy="-2"><tspan font-style="italic">μ</tspan>m</tspan></text>
<rect x="68.40" y="120.50" width="25.70" height="17.80" rx="0.9" fill="#fdfdfd" fill-opacity="0.94" stroke="#b4b4b4" stroke-width="0.55"/>
<circle cx="67.95" cy="119.50" r="1.2" fill="#111"/>
<text x="71.80" y="128.47" font-family="Liberation Sans, sans-serif" font-size="5.0" font-weight="normal" text-anchor="start" fill="#5e5e5e" stroke="#5e5e5e" stroke-width="0.12">X</text>
<text x="75.90" y="128.47" font-family="Liberation Sans, sans-serif" font-size="5.1" font-weight="bold" text-anchor="start" fill="#1e92f4" textLength="14.19" lengthAdjust="spacingAndGlyphs" stroke="#1e92f4" stroke-width="0.22">0.1554</text>
<text x="71.80" y="135.13" font-family="Liberation Sans, sans-serif" font-size="5.0" font-weight="normal" text-anchor="start" fill="#5e5e5e" stroke="#5e5e5e" stroke-width="0.12">Y</text>
<text x="75.90" y="135.13" font-family="Liberation Sans, sans-serif" font-size="5.1" font-weight="bold" text-anchor="start" fill="#1e92f4" textLength="11.61" lengthAdjust="spacingAndGlyphs" stroke="#1e92f4" stroke-width="0.22">17.89</text>
<rect x="20.50" y="167.00" width="28.00" height="17.80" rx="0.9" fill="#fdfdfd" fill-opacity="0.94" stroke="#b4b4b4" stroke-width="0.55"/>
<circle cx="48.73" cy="185.86" r="1.2" fill="#111"/>
<text x="23.90" y="174.97" font-family="Liberation Sans, sans-serif" font-size="5.0" font-weight="normal" text-anchor="start" fill="#5e5e5e" stroke="#5e5e5e" stroke-width="0.12">X</text>
<text x="28.00" y="174.97" font-family="Liberation Sans, sans-serif" font-size="5.1" font-weight="bold" text-anchor="start" fill="#1e92f4" textLength="16.77" lengthAdjust="spacingAndGlyphs" stroke="#1e92f4" stroke-width="0.22">0.07771</text>
<text x="23.90" y="181.63" font-family="Liberation Sans, sans-serif" font-size="5.0" font-weight="normal" text-anchor="start" fill="#5e5e5e" stroke="#5e5e5e" stroke-width="0.12">Y</text>
<text x="28.00" y="181.63" font-family="Liberation Sans, sans-serif" font-size="5.1" font-weight="bold" text-anchor="start" fill="#1e92f4" textLength="11.61" lengthAdjust="spacingAndGlyphs" stroke="#1e92f4" stroke-width="0.22">1.099</text>
<rect x="61.30" y="167.50" width="25.70" height="17.80" rx="0.9" fill="#fdfdfd" fill-opacity="0.94" stroke="#b4b4b4" stroke-width="0.55"/>
<circle cx="87.17" cy="186.39" r="1.2" fill="#111"/>
<text x="64.70" y="175.47" font-family="Liberation Sans, sans-serif" font-size="5.0" font-weight="normal" text-anchor="start" fill="#5e5e5e" stroke="#5e5e5e" stroke-width="0.12">X</text>
<text x="68.80" y="175.47" font-family="Liberation Sans, sans-serif" font-size="5.1" font-weight="bold" text-anchor="start" fill="#1e92f4" textLength="14.19" lengthAdjust="spacingAndGlyphs" stroke="#1e92f4" stroke-width="0.22">0.2331</text>
<text x="64.70" y="182.13" font-family="Liberation Sans, sans-serif" font-size="5.0" font-weight="normal" text-anchor="start" fill="#5e5e5e" stroke="#5e5e5e" stroke-width="0.12">Y</text>
<text x="68.80" y="182.13" font-family="Liberation Sans, sans-serif" font-size="5.1" font-weight="bold" text-anchor="start" fill="#1e92f4" textLength="14.19" lengthAdjust="spacingAndGlyphs" stroke="#1e92f4" stroke-width="0.22">0.9629</text>
<rect x="107.00" y="165.60" width="25.70" height="17.80" rx="0.9" fill="#fdfdfd" fill-opacity="0.94" stroke="#b4b4b4" stroke-width="0.55"/>
<circle cx="106.39" cy="184.98" r="1.2" fill="#111"/>
<text x="110.40" y="173.57" font-family="Liberation Sans, sans-serif" font-size="5.0" font-weight="normal" text-anchor="start" fill="#5e5e5e" stroke="#5e5e5e" stroke-width="0.12">X</text>
<text x="114.50" y="173.57" font-family="Liberation Sans, sans-serif" font-size="5.1" font-weight="bold" text-anchor="start" fill="#1e92f4" textLength="14.19" lengthAdjust="spacingAndGlyphs" stroke="#1e92f4" stroke-width="0.22">0.3108</text>
<text x="110.40" y="180.23" font-family="Liberation Sans, sans-serif" font-size="5.0" font-weight="normal" text-anchor="start" fill="#5e5e5e" stroke="#5e5e5e" stroke-width="0.12">Y</text>
<text x="114.50" y="180.23" font-family="Liberation Sans, sans-serif" font-size="5.1" font-weight="bold" text-anchor="start" fill="#1e92f4" textLength="11.61" lengthAdjust="spacingAndGlyphs" stroke="#1e92f4" stroke-width="0.22">1.322</text>
<path d="M175.80 190.45 L176.59 190.55 L177.38 190.64 L178.18 190.74 L178.97 190.83 L179.76 190.93 L180.55 191.03 L181.34 191.15 L182.14 191.29 L182.93 191.43 L183.72 191.56 L184.51 191.65 L185.30 191.68 L186.10 191.68 L186.89 191.67 L187.68 191.66 L188.47 191.65 L189.26 191.63 L190.06 191.61 L190.76 191.58 L191.46 191.52 L192.16 191.45 L192.86 191.39 L193.56 191.34 L194.26 191.32 L194.95 191.34 L195.63 191.40 L196.32 191.47 L197.00 191.54 L197.69 191.59 L198.37 191.61 L198.97 191.61 L199.56 191.61 L200.15 191.61 L200.75 191.61 L201.34 191.61 L201.94 191.61 L202.17 191.60 L202.41 191.57 L202.65 191.52 L202.89 191.46 L203.12 191.39 L203.36 191.32 L203.68 191.23 L204.00 191.12 L204.31 190.99 L204.63 190.82 L204.95 190.62 L205.26 190.38 L205.58 189.98 L205.90 189.34 L206.21 188.47 L206.53 187.43 L206.85 186.22 L207.16 184.89 L207.67 181.78 L208.17 177.15 L208.67 171.41 L209.17 165.00 L209.68 158.34 L210.18 151.85 L210.41 148.83 L210.64 145.58 L210.87 142.22 L211.10 138.85 L211.33 135.61 L211.56 132.61 L211.75 129.98 L211.95 127.11 L212.14 124.31 L212.33 121.91 L212.53 120.23 L212.72 119.60 L213.10 120.28 L213.48 122.09 L213.86 124.70 L214.24 127.78 L214.62 131.01 L215.00 134.06 L215.33 136.60 L215.66 139.31 L215.99 142.19 L216.32 145.24 L216.65 148.46 L216.98 151.85 L217.40 157.17 L217.82 163.65 L218.25 170.48 L218.67 176.83 L219.09 181.91 L219.52 184.89 L219.87 186.19 L220.23 187.31 L220.59 188.24 L220.94 188.99 L221.30 189.56 L221.66 189.95 L222.01 190.22 L222.37 190.45 L222.73 190.64 L223.08 190.79 L223.44 190.92 L223.80 191.03 L224.35 191.19 L224.90 191.34 L225.46 191.47 L226.01 191.58 L226.57 191.65 L227.12 191.68 L228.47 191.71 L229.81 191.73 L231.16 191.74 L232.51 191.75 L233.85 191.75 L235.20 191.76 L236.78 191.75 L238.37 191.74 L239.95 191.72 L241.54 191.69 L243.12 191.66 L244.70 191.61 L245.53 191.53 L246.35 191.36 L247.18 191.15 L248.00 190.94 L248.82 190.79 L249.65 190.72 L250.41 190.79 L251.17 190.94 L251.93 191.15 L252.69 191.36 L253.45 191.53 L254.21 191.61 L255.79 191.66 L257.38 191.69 L258.96 191.72 L260.54 191.74 L262.13 191.75 L263.71 191.76 L265.69 191.75 L267.67 191.74 L269.65 191.72 L271.63 191.70 L273.61 191.69 L275.59 191.68 L278.76 191.69 L281.93 191.70 L285.10 191.71 L288.26 191.73 L291.43 191.74 L294.60 191.76" fill="none" stroke="#8a8af2" stroke-width="0.68" stroke-linejoin="round"/>
<rect x="175.80" y="119.60" width="118.80" height="72.30" fill="none" stroke="#6e6e6e" stroke-width="0.6"/>
<path d="M175.80 191.9 v-1.2 M175.80 119.6 v1.2" stroke="#6e6e6e" stroke-width="0.4"/>
<text x="175.80" y="202.10" font-family="Liberation Serif, serif" font-size="7.2" font-weight="normal" text-anchor="middle" fill="#2a2a2a" stroke="#2a2a2a" stroke-width="0.16">0</text>
<path d="M199.56 191.9 v-1.2 M199.56 119.6 v1.2" stroke="#6e6e6e" stroke-width="0.4"/>
<text x="199.56" y="202.10" font-family="Liberation Serif, serif" font-size="7.2" font-weight="normal" text-anchor="middle" fill="#2a2a2a" stroke="#2a2a2a" stroke-width="0.16">0.1</text>
<path d="M223.32 191.9 v-1.2 M223.32 119.6 v1.2" stroke="#6e6e6e" stroke-width="0.4"/>
<text x="223.32" y="202.10" font-family="Liberation Serif, serif" font-size="7.2" font-weight="normal" text-anchor="middle" fill="#2a2a2a" stroke="#2a2a2a" stroke-width="0.16">0.2</text>
<path d="M247.08 191.9 v-1.2 M247.08 119.6 v1.2" stroke="#6e6e6e" stroke-width="0.4"/>
<text x="247.08" y="202.10" font-family="Liberation Serif, serif" font-size="7.2" font-weight="normal" text-anchor="middle" fill="#2a2a2a" stroke="#2a2a2a" stroke-width="0.16">0.3</text>
<path d="M270.84 191.9 v-1.2 M270.84 119.6 v1.2" stroke="#6e6e6e" stroke-width="0.4"/>
<text x="270.84" y="202.10" font-family="Liberation Serif, serif" font-size="7.2" font-weight="normal" text-anchor="middle" fill="#2a2a2a" stroke="#2a2a2a" stroke-width="0.16">0.4</text>
<path d="M294.60 191.9 v-1.2 M294.60 119.6 v1.2" stroke="#6e6e6e" stroke-width="0.4"/>
<text x="294.60" y="202.10" font-family="Liberation Serif, serif" font-size="7.2" font-weight="normal" text-anchor="middle" fill="#2a2a2a" stroke="#2a2a2a" stroke-width="0.16">0.5</text>
<path d="M175.8 191.90 h1.2 M294.6 191.90 h-1.2" stroke="#6e6e6e" stroke-width="0.4"/>
<text x="173.80" y="194.60" font-family="Liberation Serif, serif" font-size="7.2" font-weight="normal" text-anchor="end" fill="#2a2a2a" stroke="#2a2a2a" stroke-width="0.16">0</text>
<path d="M175.8 174.93 h1.2 M294.6 174.93 h-1.2" stroke="#6e6e6e" stroke-width="0.4"/>
<text x="173.80" y="177.63" font-family="Liberation Serif, serif" font-size="7.2" font-weight="normal" text-anchor="end" fill="#2a2a2a" stroke="#2a2a2a" stroke-width="0.16">20</text>
<path d="M175.8 157.96 h1.2 M294.6 157.96 h-1.2" stroke="#6e6e6e" stroke-width="0.4"/>
<text x="173.80" y="160.66" font-family="Liberation Serif, serif" font-size="7.2" font-weight="normal" text-anchor="end" fill="#2a2a2a" stroke="#2a2a2a" stroke-width="0.16">40</text>
<path d="M175.8 140.99 h1.2 M294.6 140.99 h-1.2" stroke="#6e6e6e" stroke-width="0.4"/>
<text x="173.80" y="143.69" font-family="Liberation Serif, serif" font-size="7.2" font-weight="normal" text-anchor="end" fill="#2a2a2a" stroke="#2a2a2a" stroke-width="0.16">60</text>
<path d="M175.8 124.02 h1.2 M294.6 124.02 h-1.2" stroke="#6e6e6e" stroke-width="0.4"/>
<text x="173.80" y="126.72" font-family="Liberation Serif, serif" font-size="7.2" font-weight="normal" text-anchor="end" fill="#2a2a2a" stroke="#2a2a2a" stroke-width="0.16">80</text>
<text x="235.20" y="210.50" font-family="Liberation Serif, serif" font-size="7.6" font-weight="normal" text-anchor="middle" fill="#2a2a2a" stroke="#2a2a2a" stroke-width="0.16">f/fm</text>
<text x="236.00" y="117.40" font-family="Liberation Serif, serif" font-size="7.8" font-weight="normal" text-anchor="middle" fill="#111" textLength="123.40" lengthAdjust="spacingAndGlyphs" stroke="#111" stroke-width="0.16">Lower guide bearing frequency domain</text>
<text transform="translate(159.60 156.00) rotate(-90)" font-family="Liberation Serif, serif" font-size="8.4" text-anchor="middle" fill="#2a2a2a">y<tspan font-size="6.2" dy="2">4</tspan><tspan dy="-2"><tspan font-style="italic">μ</tspan>m</tspan></text>
<rect x="214.00" y="121.20" width="24.70" height="17.11" rx="0.9" fill="#fdfdfd" fill-opacity="0.94" stroke="#b4b4b4" stroke-width="0.55"/>
<circle cx="212.72" cy="119.60" r="1.2" fill="#111"/>
<text x="217.27" y="128.86" font-family="Liberation Sans, sans-serif" font-size="4.805" font-weight="normal" text-anchor="start" fill="#5e5e5e" stroke="#5e5e5e" stroke-width="0.12">X</text>
<text x="221.21" y="128.86" font-family="Liberation Sans, sans-serif" font-size="4.9011" font-weight="bold" text-anchor="start" fill="#1e92f4" textLength="13.64" lengthAdjust="spacingAndGlyphs" stroke="#1e92f4" stroke-width="0.22">0.1554</text>
<text x="217.27" y="135.26" font-family="Liberation Sans, sans-serif" font-size="4.805" font-weight="normal" text-anchor="start" fill="#5e5e5e" stroke="#5e5e5e" stroke-width="0.12">Y</text>
<text x="221.21" y="135.26" font-family="Liberation Sans, sans-serif" font-size="4.9011" font-weight="bold" text-anchor="start" fill="#1e92f4" textLength="11.16" lengthAdjust="spacingAndGlyphs" stroke="#1e92f4" stroke-width="0.22">85.21</text>
<rect x="251.20" y="172.30" width="24.70" height="17.11" rx="0.9" fill="#fdfdfd" fill-opacity="0.94" stroke="#b4b4b4" stroke-width="0.55"/>
<circle cx="249.65" cy="190.72" r="1.2" fill="#111"/>
<text x="254.47" y="179.96" font-family="Liberation Sans, sans-serif" font-size="4.805" font-weight="normal" text-anchor="start" fill="#5e5e5e" stroke="#5e5e5e" stroke-width="0.12">X</text>
<text x="258.41" y="179.96" font-family="Liberation Sans, sans-serif" font-size="4.9011" font-weight="bold" text-anchor="start" fill="#1e92f4" textLength="13.64" lengthAdjust="spacingAndGlyphs" stroke="#1e92f4" stroke-width="0.22">0.3108</text>
<text x="254.47" y="186.36" font-family="Liberation Sans, sans-serif" font-size="4.805" font-weight="normal" text-anchor="start" fill="#5e5e5e" stroke="#5e5e5e" stroke-width="0.12">Y</text>
<text x="258.41" y="186.36" font-family="Liberation Sans, sans-serif" font-size="4.9011" font-weight="bold" text-anchor="start" fill="#1e92f4" textLength="11.16" lengthAdjust="spacingAndGlyphs" stroke="#1e92f4" stroke-width="0.22">1.386</text>
<path d="M322.30 188.79 L323.08 188.88 L323.87 188.97 L324.65 189.06 L325.43 189.16 L326.21 189.25 L327.00 189.35 L327.78 189.47 L328.56 189.61 L329.34 189.74 L330.13 189.87 L330.91 189.95 L331.69 189.99 L332.47 189.99 L333.26 189.98 L334.04 189.97 L334.82 189.95 L335.61 189.94 L336.39 189.92 L337.08 189.88 L337.77 189.83 L338.47 189.76 L339.16 189.70 L339.85 189.65 L340.54 189.63 L341.22 189.66 L341.90 189.71 L342.57 189.78 L343.25 189.84 L343.93 189.90 L344.61 189.92 L345.19 189.92 L345.78 189.92 L346.37 189.92 L346.95 189.92 L347.54 189.92 L348.13 189.92 L348.36 189.91 L348.60 189.87 L348.83 189.82 L349.07 189.77 L349.30 189.70 L349.54 189.63 L349.85 189.54 L350.16 189.43 L350.48 189.31 L350.79 189.15 L351.10 188.95 L351.42 188.72 L351.73 188.32 L352.04 187.69 L352.35 186.85 L352.67 185.83 L352.98 184.65 L353.29 183.34 L353.79 180.30 L354.29 175.77 L354.78 170.17 L355.28 163.90 L355.78 157.38 L356.28 151.03 L356.50 148.08 L356.73 144.90 L356.96 141.62 L357.18 138.33 L357.41 135.16 L357.64 132.23 L357.83 129.65 L358.02 126.84 L358.21 124.10 L358.40 121.76 L358.60 120.12 L358.79 119.50 L359.16 120.16 L359.54 121.93 L359.91 124.49 L360.29 127.50 L360.67 130.66 L361.04 133.64 L361.37 136.13 L361.69 138.78 L362.02 141.59 L362.34 144.57 L362.67 147.72 L362.99 151.03 L363.41 156.24 L363.83 162.58 L364.25 169.25 L364.67 175.47 L365.08 180.43 L365.50 183.34 L365.86 184.62 L366.21 185.71 L366.56 186.62 L366.91 187.36 L367.26 187.91 L367.62 188.29 L367.97 188.56 L368.32 188.78 L368.67 188.96 L369.03 189.12 L369.38 189.24 L369.73 189.35 L370.28 189.51 L370.83 189.65 L371.37 189.78 L371.92 189.88 L372.47 189.96 L373.02 189.99 L374.35 190.01 L375.68 190.03 L377.01 190.04 L378.34 190.05 L379.67 190.06 L381.00 190.06 L382.57 190.05 L384.13 190.04 L385.70 190.02 L387.26 190.00 L388.83 189.96 L390.39 189.92 L391.21 189.83 L392.02 189.66 L392.83 189.45 L393.65 189.23 L394.46 189.07 L395.28 189.01 L396.03 189.07 L396.78 189.24 L397.53 189.45 L398.28 189.66 L399.03 189.83 L399.78 189.92 L401.35 189.96 L402.91 190.00 L404.48 190.02 L406.05 190.04 L407.61 190.05 L409.18 190.06 L411.13 190.05 L413.09 190.04 L415.05 190.02 L417.00 190.01 L418.96 189.99 L420.92 189.99 L424.05 189.99 L427.18 190.00 L430.31 190.01 L433.44 190.03 L436.57 190.05 L439.70 190.06" fill="none" stroke="#8a8af2" stroke-width="0.68" stroke-linejoin="round"/>
<rect x="322.30" y="119.50" width="117.40" height="70.70" fill="none" stroke="#6e6e6e" stroke-width="0.6"/>
<path d="M322.30 190.2 v-1.2 M322.30 119.5 v1.2" stroke="#6e6e6e" stroke-width="0.4"/>
<text x="322.30" y="200.40" font-family="Liberation Serif, serif" font-size="7.2" font-weight="normal" text-anchor="middle" fill="#2a2a2a" stroke="#2a2a2a" stroke-width="0.16">0</text>
<path d="M345.78 190.2 v-1.2 M345.78 119.5 v1.2" stroke="#6e6e6e" stroke-width="0.4"/>
<text x="345.78" y="200.40" font-family="Liberation Serif, serif" font-size="7.2" font-weight="normal" text-anchor="middle" fill="#2a2a2a" stroke="#2a2a2a" stroke-width="0.16">0.1</text>
<path d="M369.26 190.2 v-1.2 M369.26 119.5 v1.2" stroke="#6e6e6e" stroke-width="0.4"/>
<text x="369.26" y="200.40" font-family="Liberation Serif, serif" font-size="7.2" font-weight="normal" text-anchor="middle" fill="#2a2a2a" stroke="#2a2a2a" stroke-width="0.16">0.2</text>
<path d="M392.74 190.2 v-1.2 M392.74 119.5 v1.2" stroke="#6e6e6e" stroke-width="0.4"/>
<text x="392.74" y="200.40" font-family="Liberation Serif, serif" font-size="7.2" font-weight="normal" text-anchor="middle" fill="#2a2a2a" stroke="#2a2a2a" stroke-width="0.16">0.3</text>
<path d="M416.22 190.2 v-1.2 M416.22 119.5 v1.2" stroke="#6e6e6e" stroke-width="0.4"/>
<text x="416.22" y="200.40" font-family="Liberation Serif, serif" font-size="7.2" font-weight="normal" text-anchor="middle" fill="#2a2a2a" stroke="#2a2a2a" stroke-width="0.16">0.4</text>
<path d="M439.70 190.2 v-1.2 M439.70 119.5 v1.2" stroke="#6e6e6e" stroke-width="0.4"/>
<text x="439.70" y="200.40" font-family="Liberation Serif, serif" font-size="7.2" font-weight="normal" text-anchor="middle" fill="#2a2a2a" stroke="#2a2a2a" stroke-width="0.16">0.5</text>
<path d="M322.3 190.20 h1.2 M439.7 190.20 h-1.2" stroke="#6e6e6e" stroke-width="0.4"/>
<text x="320.30" y="192.90" font-family="Liberation Serif, serif" font-size="7.2" font-weight="normal" text-anchor="end" fill="#2a2a2a" stroke="#2a2a2a" stroke-width="0.16">0</text>
<path d="M322.3 161.76 h1.2 M439.7 161.76 h-1.2" stroke="#6e6e6e" stroke-width="0.4"/>
<text x="320.30" y="164.46" font-family="Liberation Serif, serif" font-size="7.2" font-weight="normal" text-anchor="end" fill="#2a2a2a" stroke="#2a2a2a" stroke-width="0.16">50</text>
<path d="M322.3 133.32 h1.2 M439.7 133.32 h-1.2" stroke="#6e6e6e" stroke-width="0.4"/>
<text x="320.30" y="136.02" font-family="Liberation Serif, serif" font-size="7.2" font-weight="normal" text-anchor="end" fill="#2a2a2a" stroke="#2a2a2a" stroke-width="0.16">100</text>
<text x="381.00" y="208.80" font-family="Liberation Serif, serif" font-size="7.6" font-weight="normal" text-anchor="middle" fill="#2a2a2a" stroke="#2a2a2a" stroke-width="0.16">f/fm</text>
<text x="381.40" y="117.30" font-family="Liberation Serif, serif" font-size="7.8" font-weight="normal" text-anchor="middle" fill="#111" textLength="122.80" lengthAdjust="spacingAndGlyphs" stroke="#111" stroke-width="0.16">Upper guide bearing frequency domain</text>
<text transform="translate(304.00 155.50) rotate(-90)" font-family="Liberation Serif, serif" font-size="8.4" text-anchor="middle" fill="#2a2a2a">y<tspan font-size="6.2" dy="2">5</tspan><tspan dy="-2"><tspan font-style="italic">μ</tspan>m</tspan></text>
<rect x="359.80" y="121.20" width="24.80" height="17.18" rx="0.9" fill="#fdfdfd" fill-opacity="0.94" stroke="#b4b4b4" stroke-width="0.55"/>
<circle cx="358.79" cy="119.50" r="1.2" fill="#111"/>
<text x="363.08" y="128.89" font-family="Liberation Sans, sans-serif" font-size="4.825" font-weight="normal" text-anchor="start" fill="#5e5e5e" stroke="#5e5e5e" stroke-width="0.12">X</text>
<text x="367.04" y="128.89" font-family="Liberation Sans, sans-serif" font-size="4.921499999999999" font-weight="bold" text-anchor="start" fill="#1e92f4" textLength="13.69" lengthAdjust="spacingAndGlyphs" stroke="#1e92f4" stroke-width="0.22">0.1554</text>
<text x="363.08" y="135.32" font-family="Liberation Sans, sans-serif" font-size="4.825" font-weight="normal" text-anchor="start" fill="#5e5e5e" stroke="#5e5e5e" stroke-width="0.12">Y</text>
<text x="367.04" y="135.32" font-family="Liberation Sans, sans-serif" font-size="4.921499999999999" font-weight="bold" text-anchor="start" fill="#1e92f4" textLength="11.20" lengthAdjust="spacingAndGlyphs" stroke="#1e92f4" stroke-width="0.22">124.3</text>
<rect x="396.50" y="170.20" width="24.80" height="17.18" rx="0.9" fill="#fdfdfd" fill-opacity="0.94" stroke="#b4b4b4" stroke-width="0.55"/>
<circle cx="395.28" cy="189.01" r="1.2" fill="#111"/>
<text x="399.78" y="177.89" font-family="Liberation Sans, sans-serif" font-size="4.825" font-weight="normal" text-anchor="start" fill="#5e5e5e" stroke="#5e5e5e" stroke-width="0.12">X</text>
<text x="403.74" y="177.89" font-family="Liberation Sans, sans-serif" font-size="4.921499999999999" font-weight="bold" text-anchor="start" fill="#1e92f4" textLength="13.69" lengthAdjust="spacingAndGlyphs" stroke="#1e92f4" stroke-width="0.22">0.3108</text>
<text x="399.78" y="184.32" font-family="Liberation Sans, sans-serif" font-size="4.825" font-weight="normal" text-anchor="start" fill="#5e5e5e" stroke="#5e5e5e" stroke-width="0.12">Y</text>
<text x="403.74" y="184.32" font-family="Liberation Sans, sans-serif" font-size="4.921499999999999" font-weight="bold" text-anchor="start" fill="#1e92f4" textLength="11.20" lengthAdjust="spacingAndGlyphs" stroke="#1e92f4" stroke-width="0.22">2.091</text>
<text x="228.60" y="226.60" font-family="Liberation Serif, serif" font-size="9.8" text-anchor="middle" fill="#222">(<tspan font-weight="bold">a</tspan>)</text>
<text x="103.50" y="376.60" font-family="Liberation Serif, serif" font-size="9.8" text-anchor="middle" fill="#222">(<tspan font-weight="bold">b</tspan>)</text>
<text x="336.50" y="376.60" font-family="Liberation Serif, serif" font-size="9.8" text-anchor="middle" fill="#222">(<tspan font-weight="bold">c</tspan>)</text>
<text x="103.50" y="543.40" font-family="Liberation Serif, serif" font-size="9.8" text-anchor="middle" fill="#222">(<tspan font-weight="bold">d</tspan>)</text>
<text x="336.80" y="543.40" font-family="Liberation Serif, serif" font-size="9.8" text-anchor="middle" fill="#222">(<tspan font-weight="bold">e</tspan>)</text>
<rect x="37.40" y="242.30" width="134.00" height="46.30" fill="none" stroke="#9a9a9a" stroke-width="0.5"/>
<path d="M37.40 265.45 H171.40" stroke="#2a2a2a" stroke-width="0.55"/>
<rect x="37.40" y="306.40" width="134.00" height="46.80" fill="none" stroke="#9a9a9a" stroke-width="0.5"/>
<path d="M37.40 329.80 H171.40" stroke="#2a2a2a" stroke-width="0.55"/>
<ellipse cx="68.10" cy="265.50" rx="21.70" ry="21.20" transform="rotate(0 68.10 265.50)" fill="none" stroke="#ff6a4a" stroke-width="0.6" stroke-opacity="0.5" stroke-dasharray="0.9 0.5"/>
<ellipse cx="93.70" cy="265.40" rx="10.40" ry="10.00" transform="rotate(0 93.70 265.40)" fill="none" stroke="#9a6ac8" stroke-width="0.6" stroke-opacity="0.5" stroke-dasharray="0.9 0.5"/>
<ellipse cx="119.80" cy="265.30" rx="14.40" ry="14.20" transform="rotate(0 119.80 265.30)" fill="none" stroke="#6cc8f4" stroke-width="0.6" stroke-opacity="0.5" stroke-dasharray="0.9 0.5"/>

<circle cx="67.80" cy="286.50" r="0.95" fill="#ff2a2a"/>
<circle cx="87.30" cy="256.80" r="0.95" fill="#ff2a2a"/>
<circle cx="113.80" cy="253.30" r="0.95" fill="#ff2a2a"/>
<circle cx="145.90" cy="265.30" r="0.95" fill="#ff2a2a"/>
<circle cx="67.60" cy="329.80" r="0.95" fill="#ff2a2a"/>
<circle cx="93.80" cy="329.80" r="0.95" fill="#ff2a2a"/>
<circle cx="119.70" cy="329.80" r="0.95" fill="#ff2a2a"/>
<circle cx="146.00" cy="329.80" r="0.95" fill="#ff2a2a"/>
<text x="104.40" y="241.10" font-family="Liberation Sans, sans-serif" font-size="4.8" font-weight="bold" text-anchor="middle" fill="#111" textLength="114.00" lengthAdjust="spacingAndGlyphs" stroke="#111" stroke-width="0.2">The numerical simulation 2-Dimensional Holospectrum</text>
<text x="58.90" y="295.30" font-family="Liberation Sans, sans-serif" font-size="4.6" font-weight="bold" text-anchor="middle" fill="#111" stroke="#111" stroke-width="0.28">+1X</text>
<text x="84.20" y="295.30" font-family="Liberation Sans, sans-serif" font-size="4.6" font-weight="bold" text-anchor="middle" fill="#111" stroke="#111" stroke-width="0.28">-2X</text>
<text x="110.60" y="295.30" font-family="Liberation Sans, sans-serif" font-size="4.6" font-weight="bold" text-anchor="middle" fill="#111" stroke="#111" stroke-width="0.28">-3X</text>
<text x="136.40" y="295.30" font-family="Liberation Sans, sans-serif" font-size="4.6" font-weight="bold" text-anchor="middle" fill="#111" stroke="#111" stroke-width="0.28">-4X</text>
<text x="58.40" y="360.10" font-family="Liberation Sans, sans-serif" font-size="4.6" font-weight="bold" text-anchor="middle" fill="#111" stroke="#111" stroke-width="0.28">-5X</text>
<text x="84.30" y="360.10" font-family="Liberation Sans, sans-serif" font-size="4.6" font-weight="bold" text-anchor="middle" fill="#111" stroke="#111" stroke-width="0.28">-6X</text>
<text x="110.50" y="360.10" font-family="Liberation Sans, sans-serif" font-size="4.6" font-weight="bold" text-anchor="middle" fill="#111" stroke="#111" stroke-width="0.28">-7X</text>
<text x="136.40" y="360.10" font-family="Liberation Sans, sans-serif" font-size="4.6" font-weight="bold" text-anchor="middle" fill="#111" stroke="#111" stroke-width="0.28">-8X</text>
<rect x="263.60" y="238.60" width="154.90" height="40.70" fill="none" stroke="#9a9a9a" stroke-width="0.5"/>
<path d="M263.60 258.95 H418.50" stroke="#2a2a2a" stroke-width="0.55"/>
<rect x="263.60" y="313.20" width="154.90" height="40.70" fill="none" stroke="#9a9a9a" stroke-width="0.5"/>
<path d="M263.60 333.55 H418.50" stroke="#2a2a2a" stroke-width="0.55"/>
<ellipse cx="297.70" cy="258.90" rx="17.80" ry="18.90" transform="rotate(0 297.70 258.90)" fill="none" stroke="#ff6a4a" stroke-width="0.6" stroke-opacity="0.5" stroke-dasharray="0.9 0.5"/>
<ellipse cx="328.60" cy="258.80" rx="7.90" ry="9.20" transform="rotate(-25 328.60 258.80)" fill="none" stroke="#9a6ac8" stroke-width="0.6" stroke-opacity="0.5" stroke-dasharray="0.9 0.5"/>
<ellipse cx="359.50" cy="258.80" rx="11.50" ry="11.70" transform="rotate(0 359.50 258.80)" fill="none" stroke="#6cc8f4" stroke-width="0.6" stroke-opacity="0.5" stroke-dasharray="0.9 0.5"/>

<circle cx="297.90" cy="277.60" r="0.95" fill="#ff2a2a"/>
<circle cx="323.00" cy="251.30" r="0.95" fill="#ff2a2a"/>
<circle cx="354.80" cy="248.30" r="0.95" fill="#ff2a2a"/>
<circle cx="390.30" cy="258.70" r="0.95" fill="#ff2a2a"/>
<circle cx="297.70" cy="333.60" r="0.95" fill="#ff2a2a"/>
<circle cx="328.80" cy="333.60" r="0.95" fill="#ff2a2a"/>
<circle cx="359.20" cy="333.60" r="0.95" fill="#ff2a2a"/>
<circle cx="390.30" cy="333.60" r="0.95" fill="#ff2a2a"/>
<text x="341.05" y="236.70" font-family="Liberation Sans, sans-serif" font-size="5.1" font-weight="bold" text-anchor="middle" fill="#111" textLength="122.00" lengthAdjust="spacingAndGlyphs" stroke="#111" stroke-width="0.2">The numerical simulation 2-Dimensional Holospectrum</text>
<text x="286.90" y="286.00" font-family="Liberation Sans, sans-serif" font-size="4.8" font-weight="bold" text-anchor="middle" fill="#111" stroke="#111" stroke-width="0.28">+1X</text>
<text x="317.10" y="286.00" font-family="Liberation Sans, sans-serif" font-size="4.8" font-weight="bold" text-anchor="middle" fill="#111" stroke="#111" stroke-width="0.28">-2X</text>
<text x="348.00" y="286.00" font-family="Liberation Sans, sans-serif" font-size="4.8" font-weight="bold" text-anchor="middle" fill="#111" stroke="#111" stroke-width="0.28">-3X</text>
<text x="378.50" y="286.00" font-family="Liberation Sans, sans-serif" font-size="4.8" font-weight="bold" text-anchor="middle" fill="#111" stroke="#111" stroke-width="0.28">-4X</text>
<text x="286.50" y="360.80" font-family="Liberation Sans, sans-serif" font-size="4.8" font-weight="bold" text-anchor="middle" fill="#111" stroke="#111" stroke-width="0.28">-5X</text>
<text x="316.90" y="360.80" font-family="Liberation Sans, sans-serif" font-size="4.8" font-weight="bold" text-anchor="middle" fill="#111" stroke="#111" stroke-width="0.28">-6X</text>
<text x="347.60" y="360.80" font-family="Liberation Sans, sans-serif" font-size="4.8" font-weight="bold" text-anchor="middle" fill="#111" stroke="#111" stroke-width="0.28">-7X</text>
<text x="378.30" y="360.80" font-family="Liberation Sans, sans-serif" font-size="4.8" font-weight="bold" text-anchor="middle" fill="#111" stroke="#111" stroke-width="0.28">-8X</text>
<rect x="20.40" y="404.60" width="169.00" height="33.30" fill="none" stroke="#9a9a9a" stroke-width="0.5"/>
<path d="M20.40 421.25 H189.40" stroke="#2a2a2a" stroke-width="0.55"/>
<rect x="20.40" y="470.20" width="169.00" height="33.90" fill="none" stroke="#9a9a9a" stroke-width="0.5"/>
<path d="M20.40 487.15 H189.40" stroke="#2a2a2a" stroke-width="0.55"/>
<ellipse cx="46.00" cy="421.40" rx="12.30" ry="14.10" transform="rotate(8 46.00 421.40)" fill="none" stroke="#ff6a4a" stroke-width="0.6" stroke-opacity="0.75"/>
<ellipse cx="88.00" cy="422.00" rx="15.50" ry="8.60" transform="rotate(-38 88.00 422.00)" fill="none" stroke="#9a6ac8" stroke-width="0.6" stroke-opacity="0.75"/>
<ellipse cx="130.20" cy="421.40" rx="15.70" ry="14.30" transform="rotate(0 130.20 421.40)" fill="none" stroke="#6cc8f4" stroke-width="0.6" stroke-opacity="0.75"/>
<circle cx="45.9" cy="487.2" r="2.8" fill="none" stroke="#ff6a4a" stroke-width="0.4"/><path d="M170.6 422.6 L172.6 420" stroke="#9a6ac8" stroke-width="0.5"/>
<circle cx="41.30" cy="408.60" r="0.95" fill="#ff2a2a"/>
<circle cx="88.50" cy="431.50" r="0.95" fill="#ff2a2a"/>
<circle cx="141.20" cy="431.50" r="0.95" fill="#ff2a2a"/>
<circle cx="171.60" cy="421.30" r="0.95" fill="#ff2a2a"/>
<circle cx="42.80" cy="487.20" r="0.95" fill="#ff2a2a"/>
<circle cx="87.40" cy="487.20" r="0.95" fill="#ff2a2a"/>
<circle cx="129.90" cy="487.20" r="0.95" fill="#ff2a2a"/>
<circle cx="172.50" cy="487.20" r="0.95" fill="#ff2a2a"/>
<text x="104.90" y="403.10" font-family="Liberation Sans, sans-serif" font-size="5.5" font-weight="bold" text-anchor="middle" fill="#111" textLength="131.00" lengthAdjust="spacingAndGlyphs" stroke="#111" stroke-width="0.2">The numerical simulation 2-Dimensional Holospectrum</text>
<text x="29.30" y="444.10" font-family="Liberation Sans, sans-serif" font-size="5.2" font-weight="bold" text-anchor="middle" fill="#111" stroke="#111" stroke-width="0.28">+1X</text>
<text x="71.60" y="444.10" font-family="Liberation Sans, sans-serif" font-size="5.2" font-weight="bold" text-anchor="middle" fill="#111" stroke="#111" stroke-width="0.28">+2X</text>
<text x="113.30" y="444.10" font-family="Liberation Sans, sans-serif" font-size="5.2" font-weight="bold" text-anchor="middle" fill="#111" stroke="#111" stroke-width="0.28">-3X</text>
<text x="155.40" y="444.10" font-family="Liberation Sans, sans-serif" font-size="5.2" font-weight="bold" text-anchor="middle" fill="#111" stroke="#111" stroke-width="0.28">-4X</text>
<text x="29.30" y="509.70" font-family="Liberation Sans, sans-serif" font-size="5.2" font-weight="bold" text-anchor="middle" fill="#111" stroke="#111" stroke-width="0.28">+5X</text>
<text x="71.60" y="509.70" font-family="Liberation Sans, sans-serif" font-size="5.2" font-weight="bold" text-anchor="middle" fill="#111" stroke="#111" stroke-width="0.28">+6X</text>
<text x="112.90" y="509.70" font-family="Liberation Sans, sans-serif" font-size="5.2" font-weight="bold" text-anchor="middle" fill="#111" stroke="#111" stroke-width="0.28">-7X</text>
<text x="155.90" y="509.70" font-family="Liberation Sans, sans-serif" font-size="5.2" font-weight="bold" text-anchor="middle" fill="#111" stroke="#111" stroke-width="0.28">+8X</text>
<clipPath id="ce"><rect x="261.5" y="391.0" width="159.0" height="123.79999999999995"/></clipPath>
<path d="M273.80 391.0 V514.8" stroke="#e6e6e6" stroke-width="0.5"/>
<path d="M288.64 391.0 V514.8" stroke="#e6e6e6" stroke-width="0.5"/>
<path d="M303.48 391.0 V514.8" stroke="#e6e6e6" stroke-width="0.5"/>
<path d="M318.32 391.0 V514.8" stroke="#e6e6e6" stroke-width="0.5"/>
<path d="M333.16 391.0 V514.8" stroke="#e6e6e6" stroke-width="0.5"/>
<path d="M348.00 391.0 V514.8" stroke="#e6e6e6" stroke-width="0.5"/>
<path d="M362.84 391.0 V514.8" stroke="#e6e6e6" stroke-width="0.5"/>
<path d="M377.68 391.0 V514.8" stroke="#e6e6e6" stroke-width="0.5"/>
<path d="M392.52 391.0 V514.8" stroke="#e6e6e6" stroke-width="0.5"/>
<path d="M407.36 391.0 V514.8" stroke="#e6e6e6" stroke-width="0.5"/>
<path d="M261.5 512.70 H420.5" stroke="#e6e6e6" stroke-width="0.5"/>
<path d="M261.5 475.50 H420.5" stroke="#e6e6e6" stroke-width="0.5"/>
<path d="M261.5 438.30 H420.5" stroke="#e6e6e6" stroke-width="0.5"/>
<path d="M261.5 401.10 H420.5" stroke="#e6e6e6" stroke-width="0.5"/>
<g clip-path="url(#ce)" fill="none"><path d="M281.35 511.29 L349.53 455.29 L401.39 408.26" stroke="#5cc4ee" stroke-width="0.7" stroke-opacity="0.8"/><path d="M286.21 514.21 L343.28 446.66 L392.33 395.76" stroke="#d04a62" stroke-width="0.7" stroke-opacity="0.8"/><path d="M291.85 513.72 L333.16 443.36 L377.68 390.98" stroke="#4a96d8" stroke-width="0.7" stroke-opacity="0.8"/><path d="M297.40 504.46 L316.79 455.29 L353.97 408.26" stroke="#f08a3c" stroke-width="0.7" stroke-opacity="0.8"/><path d="M295.18 499.23 L316.79 465.95 L353.97 423.70" stroke="#9a58b8" stroke-width="0.7" stroke-opacity="0.8"/><path d="M290.33 496.31 L323.04 474.58 L363.03 436.20" stroke="#4a90d0" stroke-width="0.7" stroke-opacity="0.8"/><path d="M284.69 496.80 L333.16 477.88 L377.68 440.98" stroke="#7ad0f0" stroke-width="0.7" stroke-opacity="0.8"/><path d="M280.41 500.53 L343.28 474.58 L392.33 436.20" stroke="#86c058" stroke-width="0.7" stroke-opacity="0.8"/><path d="M279.51 502.57 L346.35 471.72 L396.78 432.05" stroke="#a86cc0" stroke-width="0.7" stroke-opacity="0.8"/><path d="M279.14 506.06 L349.53 465.95 L401.39 423.70" stroke="#98c468" stroke-width="0.7" stroke-opacity="0.8"/><ellipse cx="288.27" cy="505.26" rx="9.16" ry="9.19" stroke="#2a86d0" stroke-width="1.4"/><ellipse cx="333.16" cy="460.62" rx="17.21" ry="17.26" stroke="#9438b4" stroke-width="1.4"/><ellipse cx="377.68" cy="415.98" rx="24.93" ry="25.00" stroke="#bc2446" stroke-width="1.4"/><circle cx="280.41" cy="500.53" r="0.9" fill="#2fe03a"/><circle cx="284.69" cy="496.80" r="0.8" fill="#f07850"/><circle cx="343.28" cy="474.58" r="0.9" fill="#2fe03a"/><circle cx="333.16" cy="477.88" r="0.8" fill="#f07850"/><circle cx="392.33" cy="436.20" r="0.9" fill="#2fe03a"/><circle cx="377.68" cy="440.98" r="0.8" fill="#f07850"/></g>
<rect x="261.5" y="391.0" width="159.0" height="123.79999999999995" fill="none" stroke="#9c9c9c" stroke-width="0.5"/>
<path d="M273.80 514.8 v-1.2 M273.80 391.0 v1.2" stroke="#8a8a8a" stroke-width="0.4"/>
<text x="273.80" y="521.50" font-family="Liberation Sans, sans-serif" font-size="5.0" font-weight="normal" text-anchor="middle" fill="#333" >4</text>
<path d="M288.64 514.8 v-1.2 M288.64 391.0 v1.2" stroke="#8a8a8a" stroke-width="0.4"/>
<text x="288.64" y="521.50" font-family="Liberation Sans, sans-serif" font-size="5.0" font-weight="normal" text-anchor="middle" fill="#333" >6</text>
<path d="M303.48 514.8 v-1.2 M303.48 391.0 v1.2" stroke="#8a8a8a" stroke-width="0.4"/>
<text x="303.48" y="521.50" font-family="Liberation Sans, sans-serif" font-size="5.0" font-weight="normal" text-anchor="middle" fill="#333" >8</text>
<path d="M318.32 514.8 v-1.2 M318.32 391.0 v1.2" stroke="#8a8a8a" stroke-width="0.4"/>
<text x="318.32" y="521.50" font-family="Liberation Sans, sans-serif" font-size="5.0" font-weight="normal" text-anchor="middle" fill="#333" >10</text>
<path d="M333.16 514.8 v-1.2 M333.16 391.0 v1.2" stroke="#8a8a8a" stroke-width="0.4"/>
<text x="333.16" y="521.50" font-family="Liberation Sans, sans-serif" font-size="5.0" font-weight="normal" text-anchor="middle" fill="#333" >12</text>
<path d="M348.00 514.8 v-1.2 M348.00 391.0 v1.2" stroke="#8a8a8a" stroke-width="0.4"/>
<text x="348.00" y="521.50" font-family="Liberation Sans, sans-serif" font-size="5.0" font-weight="normal" text-anchor="middle" fill="#333" >14</text>
<path d="M362.84 514.8 v-1.2 M362.84 391.0 v1.2" stroke="#8a8a8a" stroke-width="0.4"/>
<text x="362.84" y="521.50" font-family="Liberation Sans, sans-serif" font-size="5.0" font-weight="normal" text-anchor="middle" fill="#333" >16</text>
<path d="M377.68 514.8 v-1.2 M377.68 391.0 v1.2" stroke="#8a8a8a" stroke-width="0.4"/>
<text x="377.68" y="521.50" font-family="Liberation Sans, sans-serif" font-size="5.0" font-weight="normal" text-anchor="middle" fill="#333" >18</text>
<path d="M392.52 514.8 v-1.2 M392.52 391.0 v1.2" stroke="#8a8a8a" stroke-width="0.4"/>
<text x="392.52" y="521.50" font-family="Liberation Sans, sans-serif" font-size="5.0" font-weight="normal" text-anchor="middle" fill="#333" >20</text>
<path d="M407.36 514.8 v-1.2 M407.36 391.0 v1.2" stroke="#8a8a8a" stroke-width="0.4"/>
<text x="407.36" y="521.50" font-family="Liberation Sans, sans-serif" font-size="5.0" font-weight="normal" text-anchor="middle" fill="#333" >22</text>
<path d="M261.5 512.70 h1.2 M420.5 512.70 h-1.2" stroke="#8a8a8a" stroke-width="0.4"/>
<text x="259.50" y="514.50" font-family="Liberation Sans, sans-serif" font-size="5.0" font-weight="normal" text-anchor="end" fill="#333" >5</text>
<path d="M261.5 475.50 h1.2 M420.5 475.50 h-1.2" stroke="#8a8a8a" stroke-width="0.4"/>
<text x="259.50" y="477.30" font-family="Liberation Sans, sans-serif" font-size="5.0" font-weight="normal" text-anchor="end" fill="#333" >10</text>
<path d="M261.5 438.30 h1.2 M420.5 438.30 h-1.2" stroke="#8a8a8a" stroke-width="0.4"/>
<text x="259.50" y="440.10" font-family="Liberation Sans, sans-serif" font-size="5.0" font-weight="normal" text-anchor="end" fill="#333" >15</text>
<path d="M261.5 401.10 h1.2 M420.5 401.10 h-1.2" stroke="#8a8a8a" stroke-width="0.4"/>
<text x="259.50" y="402.90" font-family="Liberation Sans, sans-serif" font-size="5.0" font-weight="normal" text-anchor="end" fill="#333" >20</text>
<text x="341.00" y="389.20" font-family="Liberation Sans, sans-serif" font-size="5.8" font-weight="bold" text-anchor="middle" fill="#111" textLength="138.80" lengthAdjust="spacingAndGlyphs" stroke="#111" stroke-width="0.18">The numerical simulation 3-Dimensional Holospectrum</text>
<text x="340.70" y="530.20" font-family="Liberation Serif, serif" font-size="8.0" font-weight="normal" text-anchor="middle" fill="#555" textLength="21.50" lengthAdjust="spacingAndGlyphs" ><tspan font-style="italic">x</tspan>(<tspan font-style="italic">μ</tspan>m)</text>
<text transform="translate(249.4 452.5) rotate(-90)" font-family="Liberation Serif, serif" font-size="8.0" textLength="21.5" lengthAdjust="spacingAndGlyphs" text-anchor="middle" fill="#555"><tspan font-style="italic">y</tspan>(<tspan font-style="italic">μ</tspan>m)</text>
<rect x="265" y="394.2" width="61" height="19.5" fill="#fff" stroke="#555" stroke-width="0.45"/>
<path d="M266.6 397.70 H281" stroke="#3a9ae0" stroke-width="1.3"/>
<text x="282.60" y="399.40" font-family="Liberation Sans, sans-serif" font-size="5.0" font-weight="normal" text-anchor="start" fill="#222" textLength="41.20" lengthAdjust="spacingAndGlyphs" stroke="#222" stroke-width="0.1">turbine guide bearing</text>
<path d="M266.6 403.70 H281" stroke="#9438b4" stroke-width="1.3"/>
<text x="282.60" y="405.40" font-family="Liberation Sans, sans-serif" font-size="5.0" font-weight="normal" text-anchor="start" fill="#222" textLength="38.30" lengthAdjust="spacingAndGlyphs" stroke="#222" stroke-width="0.1">lower guide bearing</text>
<path d="M266.6 409.70 H281" stroke="#c41e46" stroke-width="1.3"/>
<text x="282.60" y="411.40" font-family="Liberation Sans, sans-serif" font-size="5.0" font-weight="normal" text-anchor="start" fill="#222" textLength="39.00" lengthAdjust="spacingAndGlyphs" stroke="#222" stroke-width="0.1">upper guide bearing</text>
</g>
</svg>
</body></html>
